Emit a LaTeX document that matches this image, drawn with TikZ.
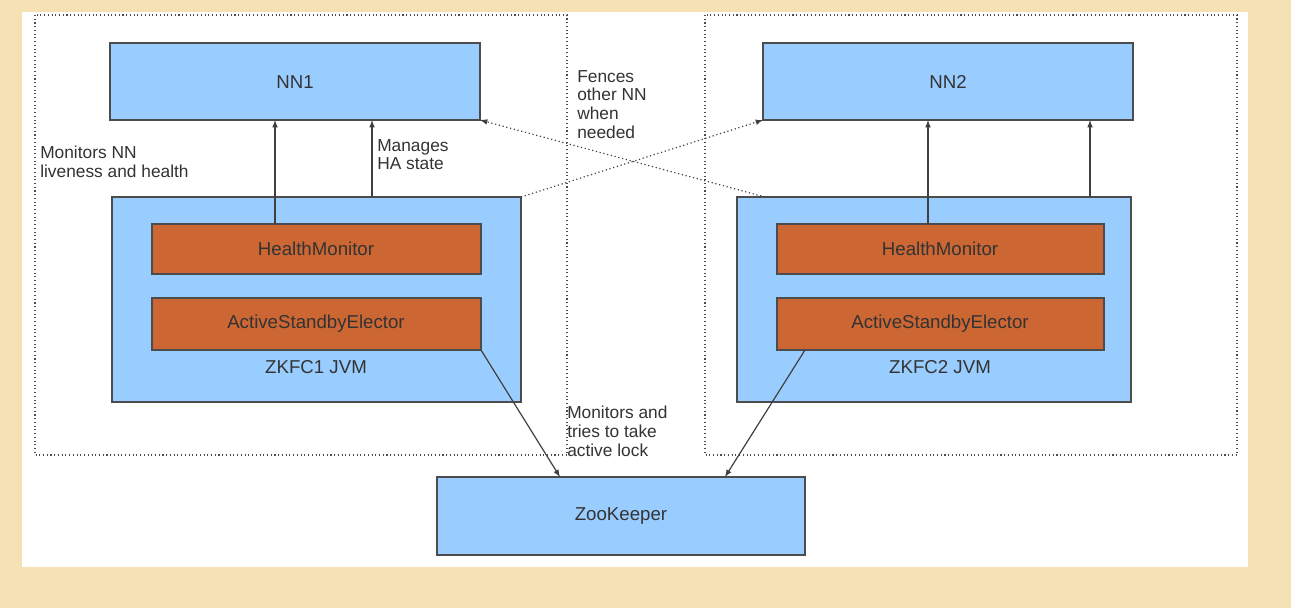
\documentclass[tikz,border=0pt]{standalone}
\usepackage{fontspec}
\setmainfont{Liberation Sans}
\usetikzlibrary{calc}
\definecolor{paper}{RGB}{245,225,180}
\definecolor{boxblue}{RGB}{153,204,255}
\definecolor{boxorange}{RGB}{204,102,51}
\begin{document}
\begin{tikzpicture}[x=0.75pt,y=0.75pt,yscale=-1,xscale=1,
  blk/.style={draw=black!70,fill=boxblue,line width=0.8pt},
  sub/.style={draw=black!70,fill=boxorange,line width=0.8pt},
  lbl/.style={font=\fontsize{14}{16}\selectfont,text=black!80},
  note/.style={font=\fontsize{13}{14}\selectfont,align=left,anchor=north west,inner sep=0pt,text=black!80},
  arr/.style={-latex,line width=0.9pt,draw=black!75},
  darr/.style={-latex,dotted,line width=0.9pt,draw=black!75}]
\fill[paper] (0,0) rectangle (1291,608);
\fill[white] (22,12) rectangle (1248,567);
\useasboundingbox (0,0) rectangle (1291,608);
% dotted host boxes
\draw[dotted,black!70,line width=0.8pt] (35,15) rectangle (567,455);
\draw[dotted,black!70,line width=0.8pt] (705,15) rectangle (1237,455);
% name nodes
\draw[blk] (110,43) rectangle (480,120);
\node[lbl] (nn1) at (295,82) {NN1};
\draw[blk] (763,43) rectangle (1133,120);
\node[lbl] (nn2) at (948,82) {NN2};
% failover controllers
\draw[blk] (112,197) rectangle (521,402);
\draw[sub] (152,224) rectangle (481,274);
\node[lbl] (hm1) at (316,249) {HealthMonitor};
\draw[sub] (152,298) rectangle (481,350);
\node[lbl] (ase1) at (316,324) {ActiveStandbyElector};
\node[lbl] (zkfc1) at (316,367) {ZKFC1 JVM};
\draw[blk] (737,197) rectangle (1131,402);
\draw[sub] (777,224) rectangle (1104,274);
\node[lbl] (hm2) at (940,249) {HealthMonitor};
\draw[sub] (777,298) rectangle (1104,350);
\node[lbl] (ase2) at (940,324) {ActiveStandbyElector};
\node[lbl] (zkfc2) at (940,367) {ZKFC2 JVM};
% zookeeper
\draw[blk] (437,477) rectangle (805,555);
\node[lbl] (zk) at (621,516) {ZooKeeper};
% connector ends
\coordinate (hm1t) at (275,224);  \coordinate (nn1a) at (275,120);
\coordinate (zk1t) at (372,197);  \coordinate (nn1b) at (372,120);
\coordinate (hm2t) at (928,224);  \coordinate (nn2a) at (928,120);
\coordinate (zk2t) at (1090,197); \coordinate (nn2b) at (1090,120);
\coordinate (z1c) at (521,197);   \coordinate (nn2c) at (763,120);
\coordinate (z2c) at (765,197);   \coordinate (nn1c) at (480,120);
\coordinate (ase1e) at (481,350); \coordinate (zka) at (560,477);
\coordinate (ase2e) at (805,350); \coordinate (zkb) at (725,477);
\draw[arr] (hm1t) -- (nn1a);
\draw[arr] (zk1t) -- (nn1b);
\draw[arr] (hm2t) -- (nn2a);
\draw[arr] (zk2t) -- (nn2b);
\draw[darr] (z1c) -- (nn2c);
\draw[darr] (z2c) -- (nn1c);
\draw[arr] (ase1e) -- (zka);
\draw[arr] (ase2e) -- (zkb);
% notes
\node[note] at (40,146) {Monitors NN\\liveness and health};
\node[note] at (377,139) {Manages\\HA state};
\node[note] at (577,70) {Fences\\other NN\\when\\needed};
\node[note] at (567,406) {Monitors and\\tries to take\\active lock};
\end{tikzpicture}
\end{document}
